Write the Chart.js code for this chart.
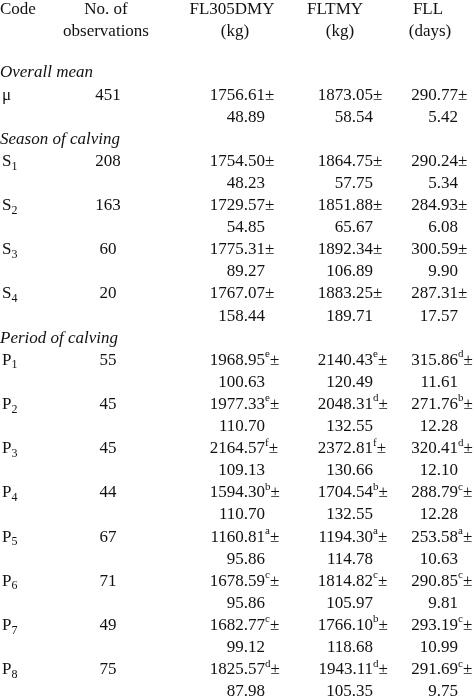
<!DOCTYPE html>
<html><head><meta charset="utf-8">
<script src="https://cdn.jsdelivr.net/npm/chart.js@4"></script>
<style>html,body{margin:0;padding:0;background:#fff}#c{display:block}</style>
</head><body>
<div style="width:474px;height:697px"><canvas id="c"></canvas></div>
<script>
'use strict';
// table data
var codes = ['μ', 'S1', 'S2', 'S3', 'S4', 'P1', 'P2', 'P3', 'P4', 'P5', 'P6', 'P7', 'P8'];
var groups = ['Overall mean', 'Season of calving', 'Period of calving'];
var groupOf = [0, 1, 1, 1, 1, 2, 2, 2, 2, 2, 2, 2, 2];
var nObs = [451, 208, 163, 60, 20, 55, 45, 45, 44, 67, 71, 49, 75];
var dmyMean = ['1756.61', '1754.50', '1729.57', '1775.31', '1767.07', '1968.95', '1977.33', '2164.57', '1594.30', '1160.81', '1678.59', '1682.77', '1825.57'];
var dmySE = ['48.89', '48.23', '54.85', '89.27', '158.44', '100.63', '110.70', '109.13', '110.70', '95.86', '95.86', '99.12', '87.98'];
var dmySup = ['', '', '', '', '', 'e', 'e', 'f', 'b', 'a', 'c', 'c', 'd'];
var tmyMean = ['1873.05', '1864.75', '1851.88', '1892.34', '1883.25', '2140.43', '2048.31', '2372.81', '1704.54', '1194.30', '1814.82', '1766.10', '1943.11'];
var tmySE = ['58.54', '57.75', '65.67', '106.89', '189.71', '120.49', '132.55', '130.66', '132.55', '114.78', '105.97', '118.68', '105.35'];
var tmySup = ['', '', '', '', '', 'e', 'd', 'f', 'b', 'a', 'c', 'b', 'd'];
var fllMean = ['290.77', '290.24', '284.93', '300.59', '287.31', '315.86', '271.76', '320.41', '288.79', '253.58', '290.85', '293.19', '291.69'];
var fllSE = ['5.42', '5.34', '6.08', '9.90', '17.57', '11.61', '12.28', '12.10', '12.28', '10.63', '9.81', '10.99', '9.75'];
var fllSup = ['', '', '', '', '', 'd', 'b', 'd', 'c', 'a', 'c', 'c', 'c'];

var FONT = '"Liberation Serif", "DejaVu Serif", serif';
var LINE = 22.1, TOP = 73;

var tablePlugin = {
  id: 'table',
  afterDraw: function (chart) {
    var ctx = chart.ctx, sx = chart.scales.x, sy = chart.scales.y;
    function X(v) { return sx.getPixelForValue(v); }
    function Y(v) { return sy.getPixelForValue(v); }
    function txt(s, x, y, align, style) {
      ctx.font = (style || '') + ' 17px ' + FONT;
      ctx.textAlign = align; ctx.textBaseline = 'middle';
      ctx.fillText(s, X(x), Y(y));
    }
    function num(val, sup, se, xr, line) {
      ctx.font = '17px ' + FONT; ctx.textAlign = 'right'; ctx.textBaseline = 'middle';
      var px = X(xr), py = Y(TOP + line * LINE);
      ctx.fillText(val, px, py);
      var nx = px;
      if (sup) {
        ctx.font = '11px ' + FONT; ctx.textAlign = 'left';
        ctx.fillText(sup, nx, py - 6);
        nx += ctx.measureText(sup).width;
      }
      ctx.font = '17px ' + FONT; ctx.textAlign = 'left';
      ctx.fillText('±', nx, py);
      ctx.textAlign = 'right';
      ctx.fillText(se, px, Y(TOP + (line + 1) * LINE));
    }
    ctx.save();
    ctx.fillStyle = '#111';
    // header
    txt('Code', 0, 10, 'left');
    txt('No. of', 106, 10, 'center'); txt('observations', 106, 32, 'center');
    txt('FL305DMY', 232, 10, 'center'); txt('(kg)', 235, 32, 'center');
    txt('FLTMY', 335, 10, 'center'); txt('(kg)', 340, 32, 'center');
    txt('FLL', 428, 10, 'center'); txt('(days)', 430, 32, 'center');
    var line = 0, lastGroup = -1;
    for (var i = 0; i < codes.length; i++) {
      if (groupOf[i] !== lastGroup) {
        lastGroup = groupOf[i];
        txt(groups[lastGroup], 0, TOP + line * LINE, 'left', 'italic');
        line++;
      }
      var y = TOP + line * LINE;
      var c = codes[i];
      ctx.font = '17px ' + FONT; ctx.textAlign = 'left'; ctx.textBaseline = 'middle';
      ctx.fillText(c[0], X(2), Y(y));
      if (c.length > 1) {
        var w = ctx.measureText(c[0]).width;
        ctx.font = '12px ' + FONT;
        ctx.fillText(c.slice(1), X(2) + w, Y(y) + 5);
      }
      txt(String(nObs[i]), 108, y, 'center');
      num(dmyMean[i], dmySup[i], dmySE[i], 265, line);
      num(tmyMean[i], tmySup[i], tmySE[i], 373, line);
      num(fllMean[i], fllSup[i], fllSE[i], 458, line);
      line += 2;
    }
    ctx.restore();
  }
};

new Chart(document.getElementById('c'), {
  type: 'scatter',
  data: { datasets: [{ data: [] }] },
  options: {
    responsive: true, maintainAspectRatio: false, animation: false,
    layout: { padding: 0 },
    plugins: { legend: { display: false }, tooltip: { enabled: false } },
    scales: {
      x: { type: 'linear', min: 0, max: 474, display: false },
      y: { type: 'linear', min: 0, max: 697, reverse: true, display: false }
    }
  },
  plugins: [tablePlugin]
});
</script>
</body></html>
